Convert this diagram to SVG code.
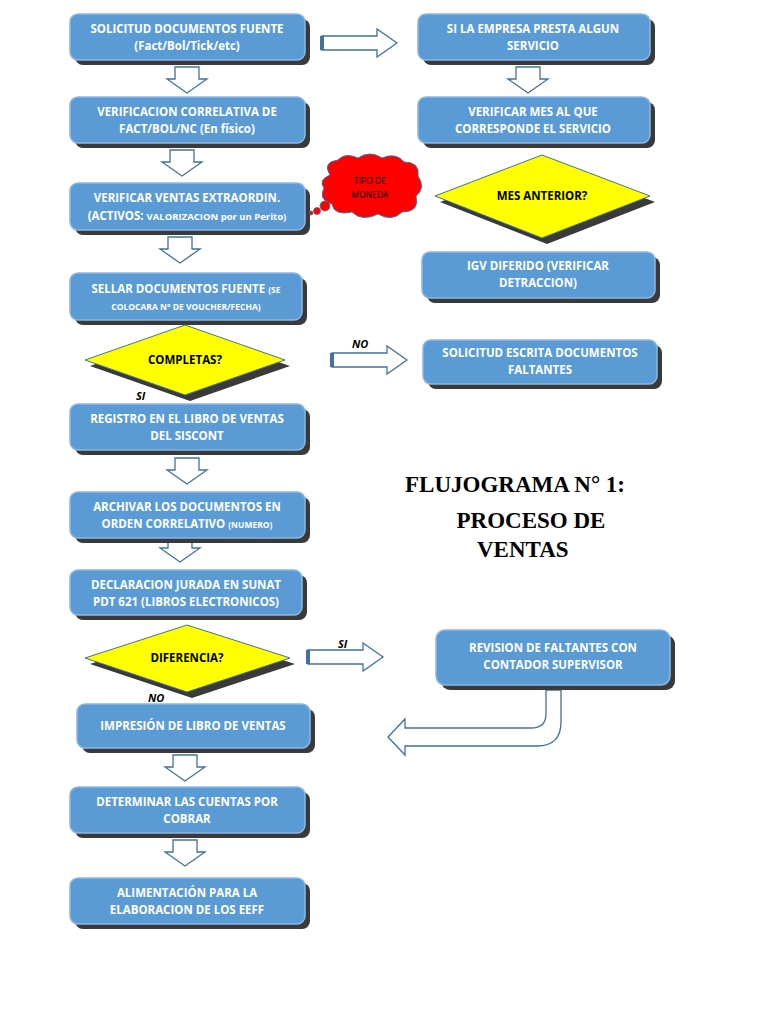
<svg xmlns="http://www.w3.org/2000/svg" xmlns:xlink="http://www.w3.org/1999/xlink" width="768" height="1024" viewBox="0 0 768 1024">
<style>
.box{fill:#5b9bd5;stroke:#8db7e3;stroke-width:1.5}
.sh{fill:#3a3a3a}
.t{font-family:"Open Sans","Liberation Sans",sans-serif;font-weight:bold;font-size:11.5px;fill:#fff;text-anchor:middle}
.s{font-size:8.5px}
.d{fill:#ffff00;stroke:#41719c;stroke-width:1}
.dt{font-family:"Open Sans","Liberation Sans",sans-serif;font-weight:bold;font-size:11.5px;fill:#000;text-anchor:middle}
.lab{font-family:"Open Sans","Liberation Sans",sans-serif;font-weight:bold;font-style:italic;font-size:11px;fill:#000}
.ar{fill:#fff;stroke:#41719c;stroke-width:1.3}
.ti{font-family:"Liberation Serif",serif;font-weight:bold;font-size:23px;fill:#000}
</style>
<defs>
<path id="da" d="M-12,0 H12 V12 H20 L0,26 L-20,12 H-12 Z"/>
<path id="ra" d="M0,-7 H55 V-14 L75,0 L55,14 V7 H0 Z"/>
</defs>
<g id="connectors">
<use href="#da" class="ar" x="187" y="67"/>
<use href="#da" class="ar" x="182" y="150"/>
<use href="#da" class="ar" x="180" y="237"/>
<use href="#da" class="ar" x="187" y="458"/>
<use href="#da" class="ar" x="180" y="536"/>
<use href="#da" class="ar" x="185" y="755"/>
<use href="#da" class="ar" x="185" y="840"/>
<use href="#da" class="ar" x="528" y="67"/>
<g transform="translate(322,43)"><use href="#ra" class="ar"/><rect x="-2" y="-7" width="4" height="14" fill="#41719c"/></g>
<g transform="translate(332,360)"><use href="#ra" class="ar"/><rect x="-2" y="-7" width="4" height="14" fill="#41719c"/></g>
<g transform="translate(308,657)"><use href="#ra" class="ar"/><rect x="-2" y="-7" width="4" height="14" fill="#41719c"/></g>
<path class="ar" d="M546,690 H561 V722 Q561,746 537,746 H405 V755 L388,737 L405,719 V728 H531 Q546,728 546,714 Z"/>
<text class="lab" x="352" y="348">NO</text>
<text class="lab" x="136" y="400">SI</text>
<text class="lab" x="338" y="648">SI</text>
<text class="lab" x="148" y="702">NO</text>
</g>
<g id="n1"><rect class="sh" x="75" y="19" width="235" height="46" rx="8"/><rect class="box" x="70" y="14" width="235" height="46" rx="8"/><text class="t" x="187" y="33">SOLICITUD DOCUMENTOS FUENTE</text><text class="t" x="187" y="50">(Fact/Bol/Tick/etc)</text></g>
<g id="n2"><rect class="sh" x="75" y="102" width="235" height="46" rx="8"/><rect class="box" x="70" y="97" width="235" height="46" rx="8"/><text class="t" x="187" y="116">VERIFICACION CORRELATIVA DE</text><text class="t" x="187" y="133">FACT/BOL/NC  (En físico)</text></g>
<g id="n3"><rect class="sh" x="75" y="188" width="235" height="47" rx="8"/><rect class="box" x="70" y="183" width="235" height="47" rx="8"/><text class="t" x="187" y="202">VERIFICAR VENTAS EXTRAORDIN.</text><text class="t" x="187" y="220">(ACTIVOS: <tspan style="font-size:9.5px">VALORIZACION por un Perito)</tspan></text></g>
<g id="n4"><rect class="sh" x="75" y="278" width="232" height="47" rx="8"/><rect class="box" x="70" y="273" width="232" height="47" rx="8"/><text class="t" x="186" y="293">SELLAR DOCUMENTOS FUENTE <tspan class="s">(SE</tspan></text><text class="t s" x="186" y="310">COLOCARA N° DE VOUCHER/FECHA)</text></g>
<g id="d1"><polygon class="sh" points="190,331 290,366 190,401 90,366"/><polygon class="d" points="185,325 285,360 185,395 85,360"/><text class="dt" x="185" y="364">COMPLETAS?</text></g>
<g id="n5"><rect class="sh" x="75" y="409" width="235" height="46" rx="8"/><rect class="box" x="70" y="404" width="235" height="46" rx="8"/><text class="t" x="187" y="423">REGISTRO EN EL LIBRO DE VENTAS</text><text class="t" x="187" y="440">DEL SISCONT</text></g>
<g id="n6"><rect class="sh" x="75" y="497" width="235" height="46" rx="8"/><rect class="box" x="70" y="492" width="235" height="46" rx="8"/><text class="t" x="187" y="511">ARCHIVAR LOS DOCUMENTOS EN</text><text class="t" x="187" y="528">ORDEN CORRELATIVO <tspan class="s">(NUMERO)</tspan></text></g>
<g id="n7"><rect class="sh" x="75" y="575" width="232" height="45" rx="8"/><rect class="box" x="70" y="570" width="232" height="45" rx="8"/><text class="t" x="186" y="589">DECLARACION JURADA EN SUNAT</text><text class="t" x="186" y="606">PDT 621 (LIBROS ELECTRONICOS)</text></g>
<g id="d2"><polygon class="sh" points="192,631 295,664 192,698 90,664"/><polygon class="d" points="187,625 290,658 187,692 85,658"/><text class="dt" x="187" y="662">DIFERENCIA?</text></g>
<g id="n8"><rect class="sh" x="82" y="709" width="233" height="44" rx="8"/><rect class="box" x="77" y="704" width="233" height="44" rx="8"/><text class="t" x="193" y="730">IMPRESIÓN DE LIBRO DE VENTAS</text></g>
<g id="n9"><rect class="sh" x="75" y="792" width="235" height="46" rx="8"/><rect class="box" x="70" y="787" width="235" height="46" rx="8"/><text class="t" x="187" y="806">DETERMINAR LAS CUENTAS POR</text><text class="t" x="187" y="823">COBRAR</text></g>
<g id="n10"><rect class="sh" x="75" y="883" width="235" height="46" rx="8"/><rect class="box" x="70" y="878" width="235" height="46" rx="8"/><text class="t" x="187" y="897">ALIMENTACIÓN PARA LA</text><text class="t" x="187" y="914">ELABORACION DE LOS EEFF</text></g>
<g id="r1"><rect class="sh" x="423" y="19" width="232" height="46" rx="8"/><rect class="box" x="418" y="14" width="232" height="46" rx="8"/><text class="t" x="533" y="33">SI LA EMPRESA PRESTA ALGUN</text><text class="t" x="533" y="50">SERVICIO</text></g>
<g id="r2"><rect class="sh" x="423" y="102" width="232" height="46" rx="8"/><rect class="box" x="418" y="97" width="232" height="46" rx="8"/><text class="t" x="533" y="116">VERIFICAR MES AL QUE</text><text class="t" x="533" y="133">CORRESPONDE EL SERVICIO</text></g>
<g id="d3"><polygon class="sh" points="547,161 655,202 547,244 440,202"/><polygon class="d" points="542,155 650,196 542,238 435,196"/><text class="dt" x="542" y="200">MES ANTERIOR?</text></g>
<g id="r3"><rect class="sh" x="427" y="257" width="233" height="46" rx="8"/><rect class="box" x="422" y="252" width="233" height="46" rx="8"/><text class="t" x="538" y="270">IGV DIFERIDO (VERIFICAR</text><text class="t" x="538" y="287">DETRACCION)</text></g>
<g id="r4"><rect class="sh" x="428" y="345" width="234" height="44" rx="8"/><rect class="box" x="423" y="340" width="234" height="44" rx="8"/><text class="t" x="540" y="357">SOLICITUD ESCRITA DOCUMENTOS</text><text class="t" x="540" y="374">FALTANTES</text></g>
<g id="r5"><rect class="sh" x="441" y="635" width="234" height="55" rx="9"/><rect class="box" x="436" y="630" width="234" height="55" rx="9"/><text class="t" x="553" y="652">REVISION DE FALTANTES CON</text><text class="t" x="553" y="669">CONTADOR SUPERVISOR</text></g>
<g id="cloud">
<path d="M330,175 Q322,162 338,160 Q345,152 358,158 Q370,150 382,158 Q396,152 404,162 Q420,162 418,176 Q426,188 416,196 Q420,212 402,212 Q392,222 378,214 Q362,222 352,212 Q334,216 332,204 Q318,200 324,188 Q318,180 330,175 Z" fill="#ff0000" stroke="#41719c" stroke-width="1"/>
<circle cx="325" cy="206" r="5" fill="#ff0000" stroke="#41719c" stroke-width="0.8"/>
<circle cx="317" cy="211" r="3.5" fill="#ff0000" stroke="#41719c" stroke-width="0.8"/>
<circle cx="311" cy="213" r="2" fill="#ff0000" stroke="#41719c" stroke-width="0.8"/>
<text x="370" y="184" font-family="'Open Sans','Liberation Sans',sans-serif" font-size="8.5" fill="#000" text-anchor="middle">TIPO DE</text>
<text x="370" y="198" font-family="'Open Sans','Liberation Sans',sans-serif" font-size="8.5" fill="#000" text-anchor="middle">MONEDA</text>
</g>
<g id="title">
<text class="ti" x="405" y="492">FLUJOGRAMA N° 1:</text>
<text class="ti" x="531" y="528" text-anchor="middle">PROCESO DE</text>
<text class="ti" x="477" y="557">VENTAS</text>
</g>
</svg>
